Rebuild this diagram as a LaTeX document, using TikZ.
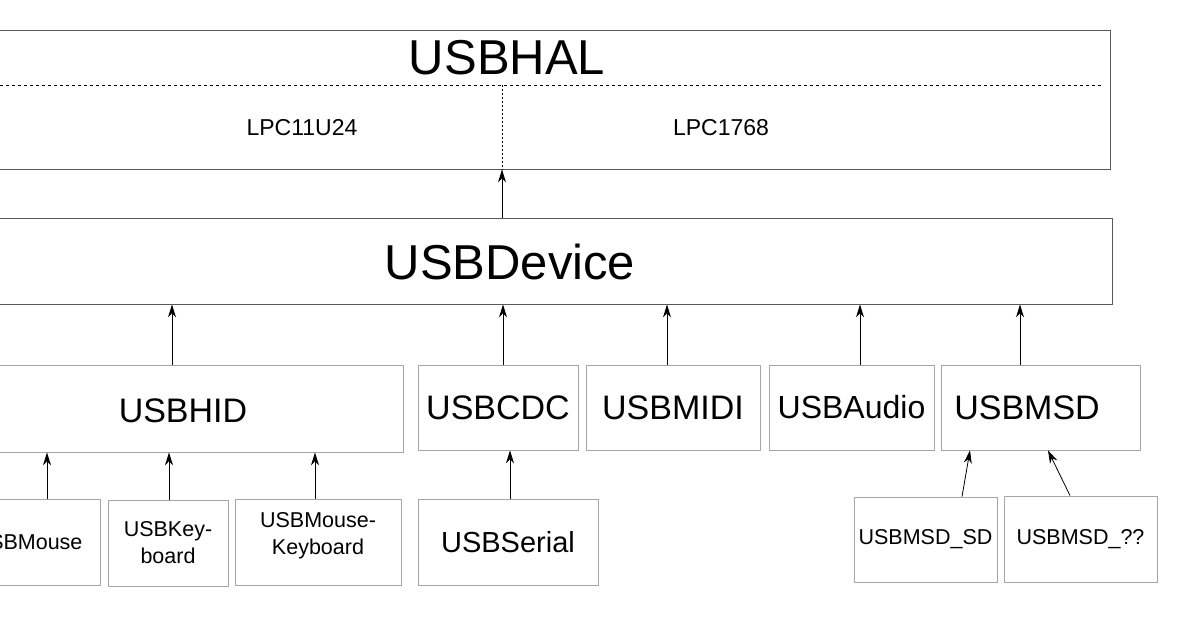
\documentclass[tikz,border=0pt]{standalone}
\usepackage{fontspec}
\setmainfont{Liberation Sans}
\usetikzlibrary{arrows.meta}
\begin{document}
\begin{tikzpicture}[x=1pt,y=-1pt,
  box/.style={draw=black!35,line width=0.8pt,inner sep=0pt},
  big/.style={draw=black!65,line width=0.9pt,inner sep=0pt},
  arr/.style={-{Stealth[length=13pt,width=8pt]},line width=0.8pt,black}]
\useasboundingbox (0,0) rectangle (1181,620);
\clip (0,0) rectangle (1181,620);
% USBHAL
\node[big,minimum width=1210pt,minimum height=139pt] (hal) at (505,99.5) {};
\node[font=\fontsize{49}{52}\selectfont] (haltxt) at (507,58) {USBHAL};
\draw[dashed,line width=0.6pt] (0,85) coordinate (d1) -- (1103,85) coordinate (d2);
\draw[dash pattern=on 2pt off 2pt,line width=0.6pt] (502,85) coordinate (v1) -- (hal.south -| v1);
\node[font=\fontsize{23}{26}\selectfont] (lpc1) at (302,128) {LPC11U24};
\node[font=\fontsize{23}{26}\selectfont] (lpc2) at (721,128) {LPC1768};
% USBDevice
\node[big,minimum width=1212pt,minimum height=86pt] (dev) at (506,261) {};
\node[font=\fontsize{49}{52}\selectfont] (devtxt) at (510,262) {USBDevice};
\draw[arr] (dev.north -| v1) -- (hal.south -| v1);
% middle row
\node[box,minimum width=503pt,minimum height=87pt] (hid) at (151.5,408.5) {};
\node[font=\fontsize{34}{38}\selectfont] (hidtxt) at (183,411) {USBHID};
\node[box,minimum width=160pt,minimum height=85pt,font=\fontsize{34}{38}\selectfont] (cdc) at (498,407.5) {USBCDC};
\node[box,minimum width=174pt,minimum height=85pt,font=\fontsize{34}{38}\selectfont] (midi) at (673,407.5) {USBMIDI};
\node[box,minimum width=165pt,minimum height=85pt,font=\fontsize{32}{36}\selectfont] (audio) at (851.5,407.5) {USBAudio};
\node[box,minimum width=199pt,minimum height=85pt] (msd) at (1040.5,407.5) {};
\node[font=\fontsize{34}{38}\selectfont] (msdtxt) at (1027,407.5) {USBMSD};
\foreach \n/\x in {hid/172,cdc/503,midi/667,audio/860,msd/1020}{
  \draw[arr] (\n.north -| \x,0) -- (dev.south -| \x,0);
}
% bottom row
\node[box,minimum width=200pt,minimum height=86pt] (mouse) at (0,542) {};
\node[font=\fontsize{21.5}{25}\selectfont,anchor=east] (mousetxt) at (86,542) {USBMouse};
\node[box,minimum width=120pt,minimum height=86pt,align=center,font=\fontsize{21.5}{27}\selectfont] (kbd) at (168,543) {USBKey-\\board};
\node[box,minimum width=166pt,minimum height=86pt] (mk) at (318,542) {};
\node[align=center,font=\fontsize{21.5}{27}\selectfont] (mktxt) at (318,536) {USBMouse-\\Keyboard};
\node[box,minimum width=180pt,minimum height=86pt,font=\fontsize{29}{33}\selectfont] (serial) at (508,542) {USBSerial};
\node[box,minimum width=143pt,minimum height=85pt,font=\fontsize{21.5}{25}\selectfont] (msdsd) at (925.5,539.5) {USBMSD\_SD};
\node[box,minimum width=153pt,minimum height=86pt,font=\fontsize{21.5}{25}\selectfont] (msdq) at (1080.5,539) {USBMSD\_??};
\foreach \n/\x in {mouse/47,kbd/169,mk/315}{
  \draw[arr] (\n.north -| \x,0) -- (hid.south -| \x,0);
}
\draw[arr] (serial.north -| 510,0) -- (cdc.south -| 510,0);
\draw[arr] (msdsd.north -| 962,0) -- (msd.south -| 970,0);
\draw[arr] (msdq.north -| 1070,0) -- (msd.south -| 1048,0);
\end{tikzpicture}
\end{document}
